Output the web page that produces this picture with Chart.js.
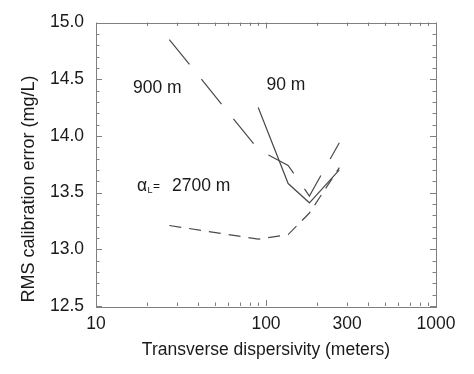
<!DOCTYPE html>
<html>
<head>
<meta charset="utf-8">
<script src="https://cdn.jsdelivr.net/npm/chart.js@4.4.1/dist/chart.umd.min.js"></script>
<style>
  html, body { margin: 0; padding: 0; background: #fff; }
</style>
</head>
<body>
<canvas id="rms-chart" width="474" height="374"></canvas>
<script>
// values (x = transverse dispersivity, y = RMS error)
const dispersivity90 = [90, 135, 180, 270];
const error90 = [14.25, 13.58, 13.41, 13.70];
const dispersivity900 = [27, 90, 135, 180, 270];
const error900 = [14.85, 13.88, 13.74, 13.47, 13.94];
const dispersivity2700 = [27, 90, 135, 180, 270];
const error2700 = [13.21, 13.09, 13.13, 13.32, 13.72];

const xTickLabels = [10, 100, 300, 1000];
const xMinorTicks = [20, 30, 40, 50, 60, 70, 80, 90, 200, 300, 400, 500, 600, 700, 800, 900];
const yTickLabels = [12.5, 13.0, 13.5, 14.0, 14.5, 15.0];

const FONT = "'Liberation Sans', Arial, Helvetica, sans-serif";
const textColor = "#1a1a1a";
const lineColor = "#4a4a4a";
const frameColor = "#808080";

function toPoints(xs, ys) {
  return xs.map((x, i) => ({x: x, y: ys[i]}));
}

// frame, inward ticks, y title and in-plot labels
const decorations = {
  id: "decorations",
  afterDraw(chart) {
    const ctx = chart.ctx;
    const a = chart.chartArea;
    const xs = chart.scales.x;
    const ys = chart.scales.y;
    ctx.save();
    ctx.strokeStyle = frameColor;
    ctx.lineWidth = 1;
    ctx.strokeRect(Math.round(a.left) + 0.5, Math.round(a.top) + 0.5,
                   Math.round(a.right - a.left), Math.round(a.bottom - a.top));

    ctx.beginPath();
    [10, 100, 1000].concat(xMinorTicks).forEach(v => {
      let len = (v === 10 || v === 100 || v === 1000) ? 6 : 3.5;
      let px = Math.round(xs.getPixelForValue(v)) + 0.5;
      ctx.moveTo(px, a.bottom); ctx.lineTo(px, a.bottom - len);
      ctx.moveTo(px, a.top); ctx.lineTo(px, a.top + len);
    });
    for (let k = 0; k <= 25; k++) {
      let v = 12.5 + k * 0.1;
      let len = (k % 5 === 0) ? 6 : 3.5;
      let py = Math.round(ys.getPixelForValue(v)) + 0.5;
      ctx.moveTo(a.left, py); ctx.lineTo(a.left + len, py);
      ctx.moveTo(a.right, py); ctx.lineTo(a.right - len, py);
    }
    ctx.stroke();

    ctx.fillStyle = textColor;
    // y axis title, sits a bit below the middle like the original
    ctx.save();
    ctx.translate(29, 189);
    ctx.rotate(-Math.PI / 2);
    ctx.font = "18px " + FONT;
    ctx.textAlign = "center";
    ctx.textBaseline = "middle";
    ctx.fillText("RMS calibration error (mg/L)", 0, 0);
    ctx.restore();

    ctx.textAlign = "left";
    ctx.textBaseline = "alphabetic";
    ctx.font = "17.5px " + FONT;
    ctx.fillText("900 m", 133, 92.5);
    ctx.fillText("90 m", 266.5, 90);
    ctx.fillText("α", 137, 190.5);
    ctx.fillText("2700 m", 172, 190.7);
    ctx.font = "9px " + FONT;
    ctx.fillText("L", 147.5, 193);
    ctx.font = "12px " + FONT;
    ctx.fillText("=", 153, 190);
    ctx.restore();
  }
};

const tickFont = {family: FONT, size: 17.5};

new Chart(document.getElementById("rms-chart"), {
  type: "line",
  data: {
    datasets: [
      {
        label: "90 m",
        data: toPoints(dispersivity90, error90),
        borderColor: lineColor,
        borderWidth: 1.2,
        pointRadius: 0,
        fill: false,
        tension: 0
      },
      {
        label: "900 m",
        data: toPoints(dispersivity900, error900),
        borderColor: lineColor,
        borderWidth: 1.2,
        borderDash: [32, 19],
        pointRadius: 0,
        fill: false,
        tension: 0
      },
      {
        label: "2700 m",
        data: toPoints(dispersivity2700, error2700),
        borderColor: lineColor,
        borderWidth: 1.2,
        borderDash: [12, 8],
        pointRadius: 0,
        fill: false,
        tension: 0
      }
    ]
  },
  options: {
    responsive: false,
    animation: false,
    devicePixelRatio: 1,
    layout: {padding: {top: 21, right: 38, left: 0, bottom: 0}},
    plugins: {
      legend: {display: false},
      tooltip: {enabled: false}
    },
    scales: {
      x: {
        type: "logarithmic",
        min: 10,
        max: 1000,
        grid: {display: false, drawTicks: false},
        border: {display: false},
        afterBuildTicks: s => { s.ticks = xTickLabels.map(v => ({value: v})); },
        afterFit: s => { s.height = 68; },
        ticks: {
          font: tickFont,
          color: textColor,
          padding: 8,
          autoSkip: false,
          maxRotation: 0,
          callback: v => String(v)
        },
        title: {
          display: true,
          text: "Transverse dispersivity (meters)",
          font: {family: FONT, size: 17.5},
          color: textColor,
          padding: {top: 0, bottom: 13}
        }
      },
      y: {
        type: "linear",
        min: 12.5,
        max: 15,
        grid: {display: false, drawTicks: false},
        border: {display: false},
        afterBuildTicks: s => { s.ticks = yTickLabels.map(v => ({value: v})); },
        afterFit: s => { s.width = 96; },
        ticks: {
          font: tickFont,
          color: textColor,
          padding: 12,
          callback: v => v.toFixed(1)
        }
      }
    }
  },
  plugins: [decorations]
});
</script>
</body>
</html>
